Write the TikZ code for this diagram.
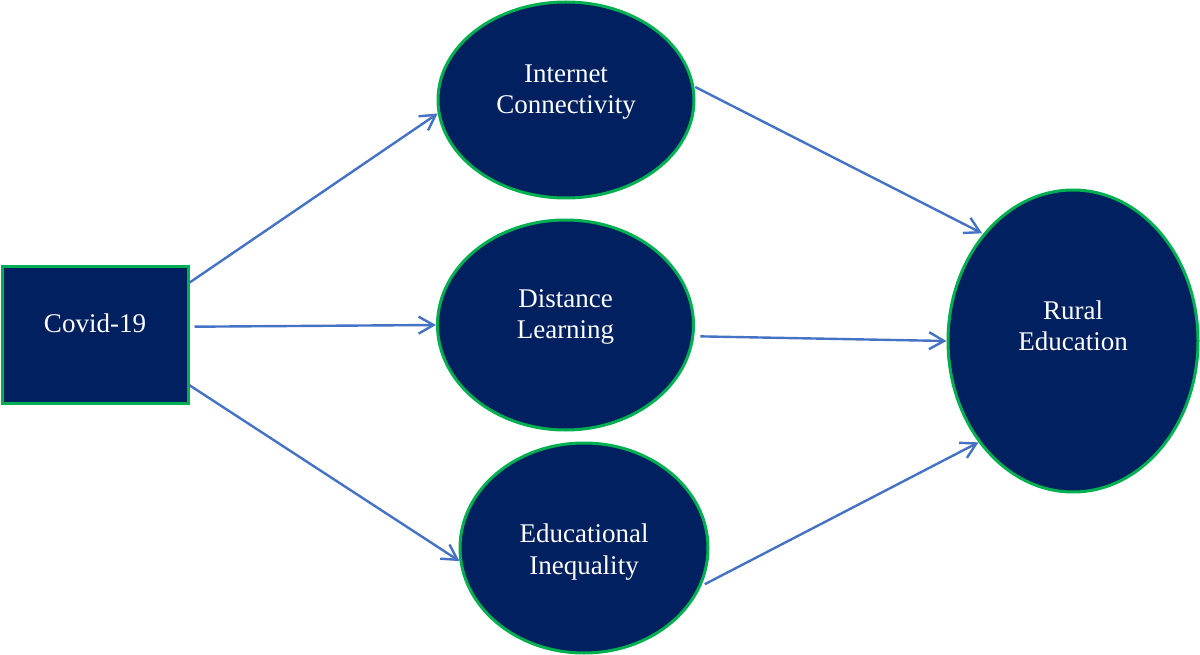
\documentclass[tikz,border=0pt]{standalone}
\usepackage{fontspec}
\setmainfont{Liberation Serif}
\usetikzlibrary{shapes.geometric,arrows.meta,calc}
\definecolor{navy}{HTML}{002060}
\definecolor{brd}{HTML}{00B050}
\definecolor{arr}{HTML}{4472C4}
\tikzset{
  oval/.style={ellipse,draw=brd,fill=navy,line width=3pt,inner sep=0pt},
  boxnode/.style={rectangle,draw=brd,fill=navy,line width=3pt,inner sep=0pt},
  lbl/.style={text=white,align=center,inner sep=0pt,font=\fontsize{27}{31.5}\selectfont},
  link/.style={draw=arr,line width=2.4pt,-{Straight Barb[length=15pt,width=17pt]}}
}
\begin{document}
\begin{tikzpicture}[x=1pt,y=-1pt]
\useasboundingbox (0,0) rectangle (1200,655);
\node[boxnode,minimum width=186pt,minimum height=136pt] (cv) at (95,335) {};
\node[oval,minimum width=256pt,minimum height=196pt] (ic) at (566,100) {};
\node[oval,minimum width=256pt,minimum height=210pt] (dl) at (565.5,325) {};
\node[oval,minimum width=248pt,minimum height=210pt] (ei) at (584,548) {};
\node[oval,minimum width=250pt,minimum height=302pt] (re) at (1073,341) {};
\node[lbl] (tcv) at (95,323) {Covid-19};
\node[lbl] (tic) at (566,92) {Internet\\Connectivity};
\node[lbl] (tdl) at (565.5,317) {Distance\\Learning};
\node[lbl] (tei) at (584,552) {Educational\\Inequality};
\node[lbl] (tre) at (1073,326) {Rural\\Education};
\draw[link] (cv.29.7) -- (ic.186);
\draw[link,shorten <=5pt] (cv.5.5) -- (dl.180);
\draw[link] (cv.-28.3) -- (ei.186);
\draw[link,shorten <=1pt,shorten >=1pt] (ic.6.6) -- (re.130.6);
\draw[link,shorten <=6pt] (dl.-5.6) -- (re.180);
\draw[link,shorten <=4pt] (ei.-18) -- (re.227.6);
\end{tikzpicture}
\end{document}
